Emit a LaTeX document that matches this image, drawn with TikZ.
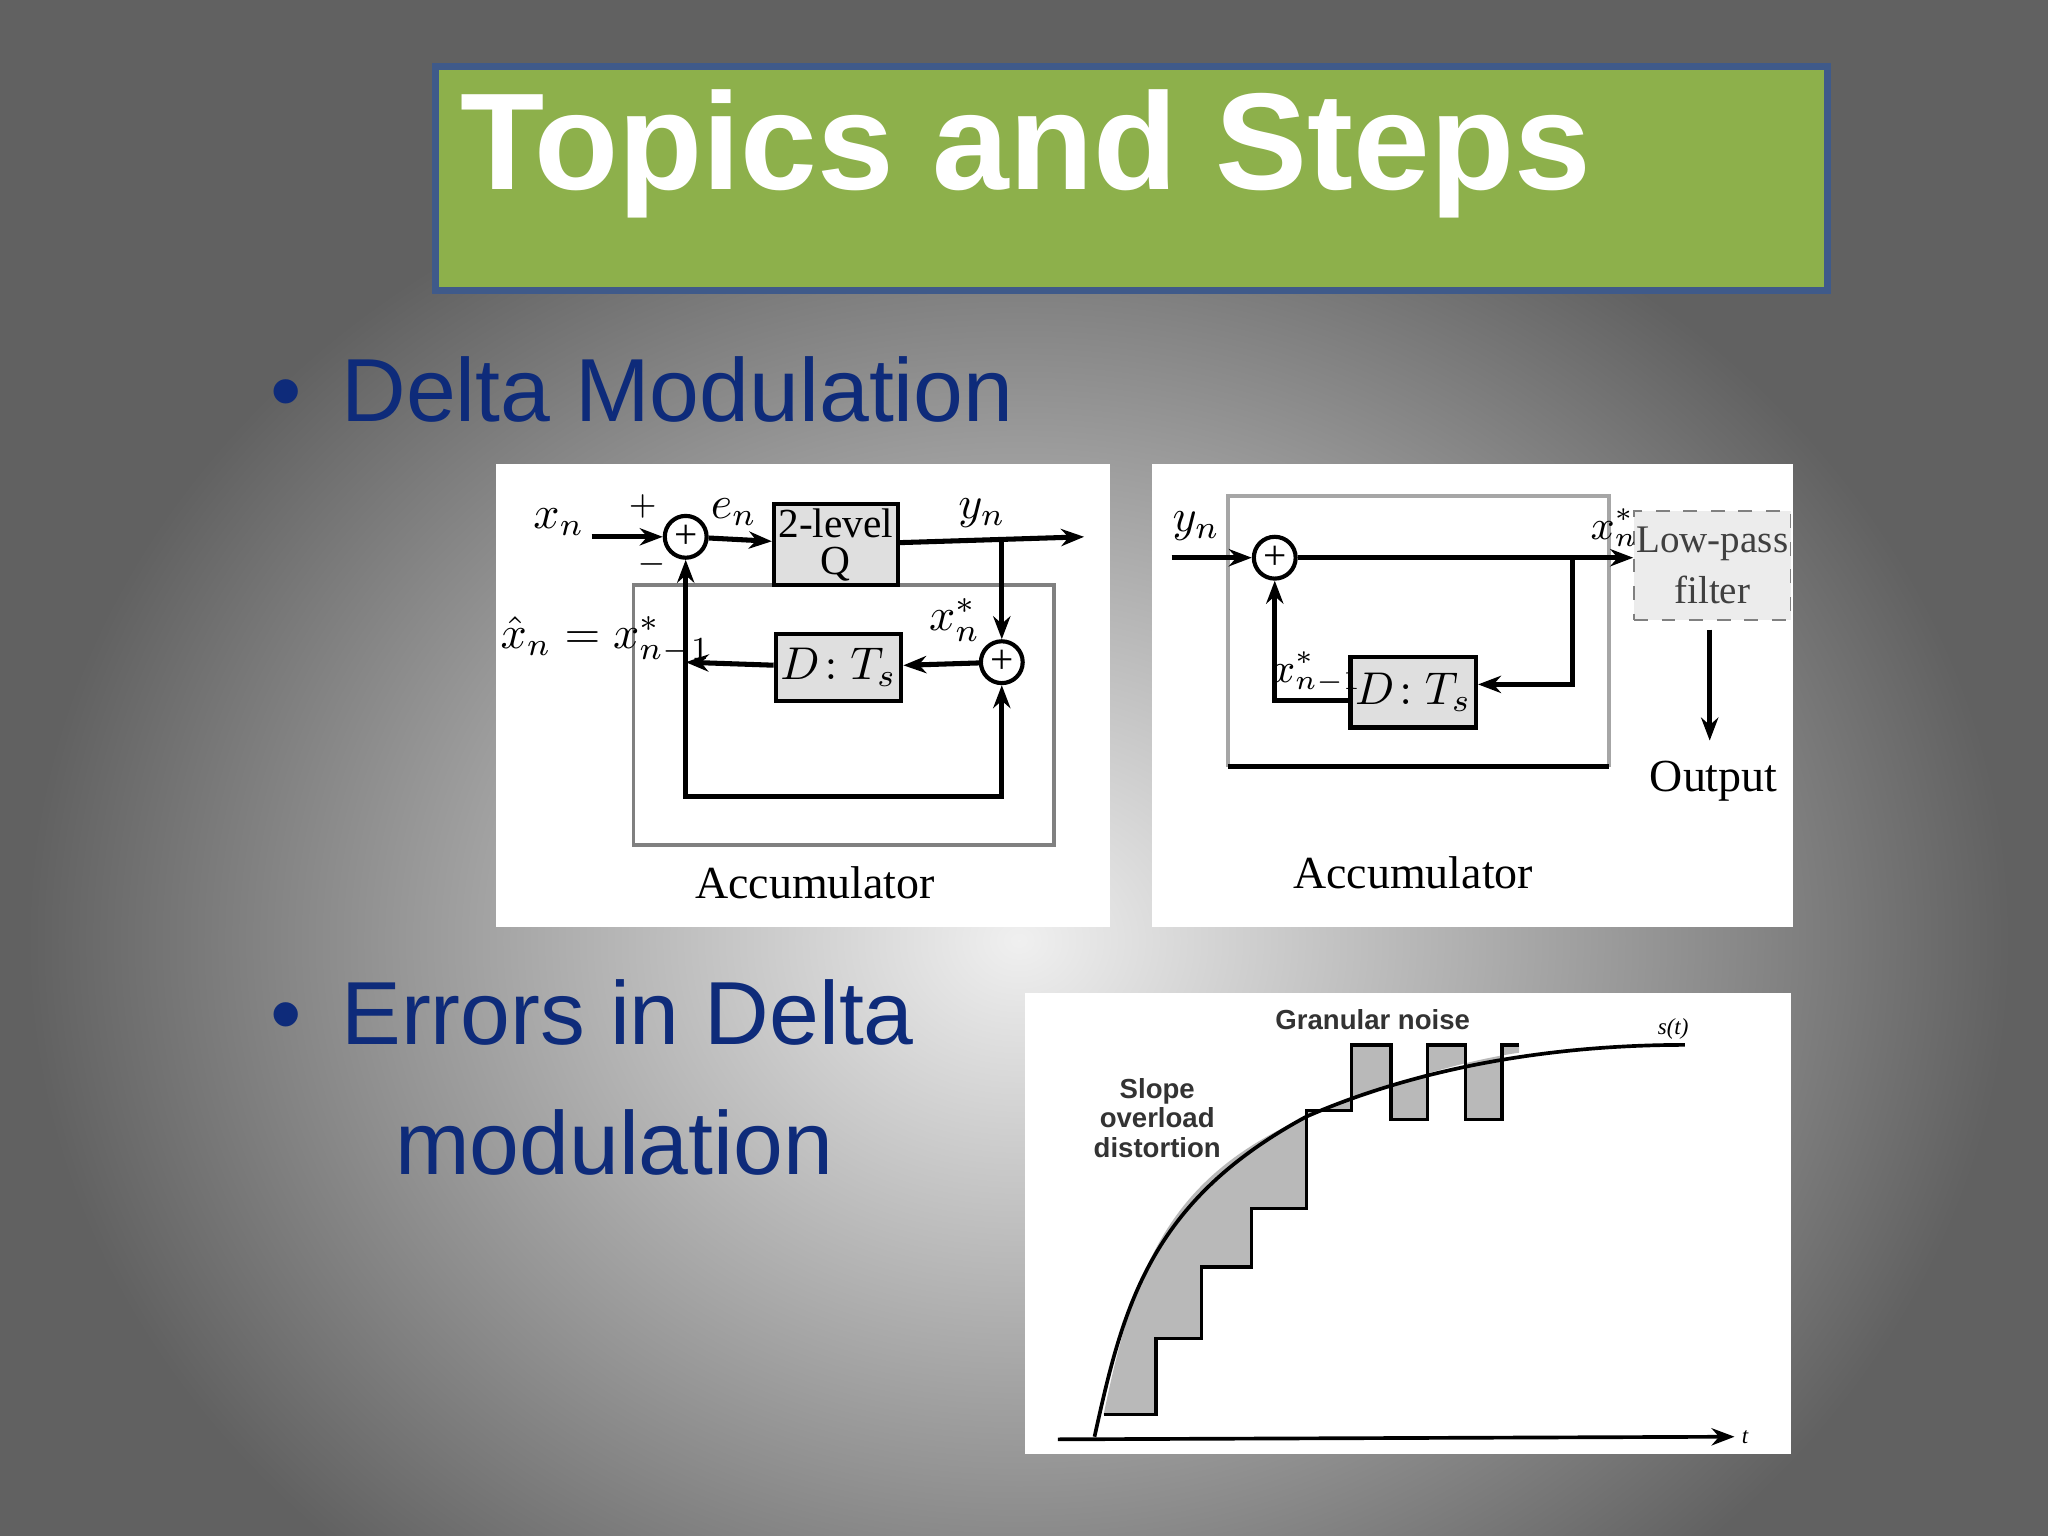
\documentclass[tikz,border=0pt]{standalone}
\usepackage{fontspec}
\setmainfont{Liberation Serif}
\newfontfamily\sansf{Liberation Sans}
\usetikzlibrary{arrows.meta,shadings}
\definecolor{titlegreen}{HTML}{8DB04B}
\definecolor{titleborder}{HTML}{3F5A8A}
\definecolor{bulletblue}{HTML}{0E2B7A}
\begin{document}
\begin{tikzpicture}[x=0.01cm,y=-0.01cm,
  ln/.style={line width=1.1pt},
  arr/.style={ln,-{Stealth[length=5pt]}},
  sumc/.style={circle,draw,line width=0.9pt,minimum size=0.32cm,inner sep=0pt,fill=white},
  blk/.style={draw,line width=0.9pt,fill=gray!25,inner sep=1pt,font=\fontsize{10}{10}\selectfont},
  lab/.style={font=\fontsize{10}{10}\selectfont},
  bul/.style={anchor=west,text=bulletblue,font=\sansf\fontsize{19.5}{19.5}\selectfont}]
\useasboundingbox (0,0) rectangle (1568,1176);
\fill[black!62] (0,0) rectangle (1568,1176);
\shade[inner color=white!88!gray,outer color=black!62] (780,720) ellipse (760 and 640);
% title
\node[draw=titleborder,line width=1.5pt,fill=titlegreen,minimum width=10.65cm,minimum height=1.72cm,anchor=north west] (tb) at (331,48) {};
\node[anchor=west,text=white,font=\sansf\bfseries\fontsize{30}{30}\selectfont] (tt) at (340,118) {Topics and Steps};
% bullets
\node[bul] (b1) at (195,298) {\textbullet\hspace{0.3cm}Delta Modulation};
\node[bul] (b2) at (195,775) {\textbullet\hspace{0.3cm}Errors in Delta};
\node[bul] (b3) at (290,875) {modulation};
% panel 1
\fill[white] (380,355) rectangle (850,710);
\draw[gray,line width=0.8pt] (485,448) rectangle (807,647);
\node[sumc] (s1) at (525,411) {\small+};
\node[blk,minimum width=0.9cm,minimum height=0.52cm,align=center,font=\fontsize{9}{8}\selectfont] (q) at (640,417) {2-level\\Q};
\node[sumc] (s2) at (767,507) {\small+};
\node[blk,minimum width=0.9cm,minimum height=0.51cm] (d1) at (642,511) {$D\!: T_s$};
\node[lab] (xn) at (428,400) {$x_n$};
\coordinate (xin) at (453,411);
\coordinate (yout) at (830,411);
\coordinate (tap) at (767,411);
\coordinate (c1) at (525,507);
\coordinate (c2) at (525,610);
\coordinate (c3) at (767,610);
\draw[arr] (xin) -- (s1);
\draw[arr] (s1) -- (q);
\draw[arr] (q) -- (yout);
\draw[arr] (tap) -- (s2);
\draw[arr] (s2) -- (d1);
\draw[arr] (d1) -- (c1);
\draw[arr] (c1) -- (s1);
\draw[arr] (c1) -- (c2) -- (c3) -- (s2);
\node[font=\scriptsize] (pl) at (492,388) {$+$};
\node[font=\scriptsize] (mi) at (499,432) {$-$};
\node[lab] (en) at (562,392) {$e_n$};
\node[lab] (yn) at (752,393) {$y_n$};
\node[lab] (xs) at (731,475) {$x_n^*$};
\node[lab] (xh) at (464,490) {$\hat x_n = x_{n-1}^*$};
\node[lab] (acc1) at (624,676) {Accumulator};
% panel 2
\fill[white] (882,355) rectangle (1373,710);
\draw[gray!70,line width=0.8pt] (940,587) -- (940,380) -- (1232,380) -- (1232,587);
\draw[line width=1pt] (940,587) -- (1232,587);
\node[sumc] (s3) at (976,427) {\small+};
\node[draw,dashed,gray,fill=gray!15,minimum width=1cm,minimum height=0.83cm,align=center,inner sep=0.5pt,text=black!75,font=\fontsize{8.5}{11}\selectfont] (lp) at (1311,433) {Low-pass\\filter};
\node[blk,minimum width=0.8cm,minimum height=0.54cm] (d2) at (1082,530) {$D\!: T_s$};
\coordinate (yin) at (897,427);
\coordinate (tap2) at (1204,427);
\coordinate (c4) at (1204,524);
\coordinate (c5) at (976,536);
\coordinate (lpb) at (1309,482);
\coordinate (outp) at (1309,567);
\draw[arr] (yin) -- (s3);
\draw[arr] (s3) -- (lp.west|-s3);
\draw[arr] (tap2) -- (c4) -- (d2.east|-c4);
\draw[arr] (d2.west|-c5) -- (c5) -- (s3);
\draw[arr] (lpb) -- (outp);
\node[lab] (yn2) at (916,403) {$y_n$};
\node[font=\fontsize{9}{9}\selectfont] (xs2) at (1236,404) {$x_n^*$};
\node[font=\fontsize{9}{9}\selectfont] (xm) at (1008,515) {$x_{n-1}^*$};
\node[lab] (out) at (1312,598) {Output};
\node[lab] (acc2) at (1082,668) {Accumulator};
% panel 3
\fill[white] (785,760) rectangle (1371,1113);
\fill[gray!55,even odd rule] (845,1083) .. controls (870,960) and (900,900) .. (1000,855) .. controls (1060,830) and (1120,812) .. (1163,806) -- (1163,800) -- (1150,800) -- (1150,857) -- (1122,857) -- (1122,800) -- (1093,800) -- (1093,857) -- (1065,857) -- (1065,800) -- (1035,800) -- (1035,850) -- (1000,850) -- (1000,925) -- (958,925) -- (958,970) -- (920,970) -- (920,1025) -- (885,1025) -- (885,1083) -- cycle;
\draw[line width=0.8pt] (838,1100) .. controls (860,1000) and (880,920) .. (1000,855) .. controls (1080,820) and (1180,800) .. (1290,800);
\draw[line width=0.7pt] (845,1083) -- (885,1083) -- (885,1025) -- (920,1025) -- (920,970) -- (958,970) -- (958,925) -- (1000,925) -- (1000,850) -- (1035,850) -- (1035,800) -- (1065,800) -- (1065,857) -- (1093,857) -- (1093,800) -- (1122,800) -- (1122,857) -- (1150,857) -- (1150,800) -- (1163,800);
\coordinate (ax0) at (810,1102);
\coordinate (ax1) at (1328,1100);
\draw[line width=0.8pt,-{Stealth[length=5pt]}] (ax0) -- (ax1);
\node[font=\tiny\itshape] (tl) at (1336,1100) {t};
\node[font=\tiny\itshape] (st) at (1281,788) {s(t)};
\node[font=\sansf\bfseries\fontsize{6}{6}\selectfont,text=black!80] (gn) at (1051,781) {Granular noise};
\node[font=\sansf\bfseries\fontsize{6}{6.5}\selectfont,text=black!80,align=center] (so) at (886,856) {Slope\\overload\\distortion};
\end{tikzpicture}
\end{document}
